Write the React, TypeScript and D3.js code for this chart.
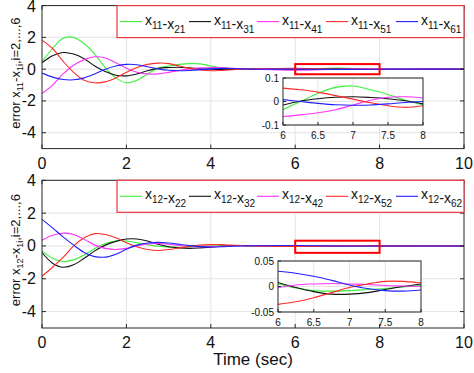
import React from "react";
import * as d3 from "d3";

// sample times (sec)
const T = [0, 0.25, 0.5, 0.75, 1, 1.25, 1.5, 1.75, 2, 2.25, 2.5, 2.75, 3, 3.25, 3.5, 3.75, 4, 4.25, 4.5, 4.75, 5, 6, 7, 8, 9, 10];
const TI = [6, 6.25, 6.5, 6.75, 7, 7.25, 7.5, 7.75, 8];

const colors = ["#3cf03c", "#111111", "#ff33ff", "#ff2a2a", "#2020ff"];

// upper panel: x11 - xi1
const top1 = [0.46, 1.3, 1.95, 2.0, 1.6, 0.95, 0.1, -0.55, -0.86, -0.7, -0.3, 0.05, 0.2, 0.3, 0.35, 0.33, 0.2, 0.1, 0.05, 0.02, 0, -0.035, 0.065, -0.015, 0.01, 0];
const top2 = [0.4, 0.85, 1.05, 0.95, 0.65, 0.2, -0.15, -0.38, -0.42, -0.3, -0.1, 0.05, 0.1, 0.12, 0.08, 0.03, 0, -0.02, -0.02, 0, 0.01, -0.015, 0.018, -0.01, 0, 0];
const top3 = [-1.53, -1.0, -0.3, 0.25, 0.6, 0.78, 0.7, 0.4, 0.05, -0.2, -0.3, -0.3, -0.2, -0.08, 0.02, 0.08, 0.1, 0.1, 0.05, 0.02, 0, -0.06, -0.01, 0.015, 0, 0];
const top4 = [1.83, 1.3, 0.5, -0.2, -0.7, -0.86, -0.8, -0.55, -0.2, 0.1, 0.3, 0.38, 0.35, 0.2, 0.05, -0.05, -0.1, -0.08, -0.04, 0, 0.02, 0.055, 0, -0.015, 0, 0];
const top5 = [-0.25, -0.5, -0.65, -0.67, -0.55, -0.3, 0, 0.2, 0.3, 0.28, 0.15, 0.02, -0.07, -0.1, -0.08, -0.03, 0.02, 0.05, 0.04, 0.02, 0, 0.01, -0.015, 0, 0, 0];

const topIn1 = [-0.035, 0, 0.035, 0.06, 0.066, 0.05, 0.03, 0.005, -0.015];
const topIn2 = [-0.015, 0.002, 0.012, 0.018, 0.02, 0.017, 0.012, 0.003, -0.01];
const topIn3 = [-0.064, -0.057, -0.048, -0.035, -0.015, 0.005, 0.018, 0.02, 0.015];
const topIn4 = [0.057, 0.05, 0.04, 0.025, 0.01, -0.005, -0.018, -0.025, -0.018];
const topIn5 = [0.008, 0, -0.008, -0.014, -0.016, -0.015, -0.01, -0.004, 0];

// lower panel: x12 - xi2
const bot1 = [-0.3, -0.75, -0.95, -0.85, -0.55, -0.15, 0.15, 0.3, 0.3, 0.2, 0.08, -0.02, -0.07, -0.08, -0.06, -0.03, 0, 0.02, 0.02, 0.01, 0, 0.005, -0.006, 0.002, 0, 0];
const bot2 = [-0.4, -1.05, -1.3, -1.15, -0.75, -0.3, 0.05, 0.28, 0.42, 0.42, 0.3, 0.1, -0.05, -0.12, -0.15, -0.12, -0.07, -0.02, 0.02, 0.03, 0.02, 0.008, -0.014, 0.005, 0, 0];
const bot3 = [0.35, 0.65, 0.78, 0.7, 0.4, 0.05, -0.15, -0.22, -0.15, 0, 0.12, 0.15, 0.1, 0.03, -0.03, -0.05, -0.04, -0.02, 0, 0.01, 0.01, -0.002, 0.005, 0, 0, 0];
const bot4 = [-1.85, -1.3, -0.7, 0, 0.5, 0.75, 0.7, 0.5, 0.2, -0.05, -0.22, -0.28, -0.22, -0.12, -0.02, 0.05, 0.08, 0.08, 0.05, 0.02, 0, -0.035, 0, 0.006, 0, 0];
const bot5 = [1.62, 1.1, 0.55, 0.05, -0.4, -0.65, -0.68, -0.5, -0.2, 0.05, 0.18, 0.22, 0.18, 0.1, 0.02, -0.04, -0.06, -0.05, -0.02, 0, 0.01, 0.03, 0, -0.007, 0, 0];

const botIn1 = [0.005, -0.003, -0.008, -0.009, -0.008, -0.006, -0.004, -0.001, 0.002];
const botIn2 = [0.008, -0.002, -0.01, -0.015, -0.015, -0.012, -0.006, 0, 0.005];
const botIn3 = [-0.002, 0.003, 0.005, 0.006, 0.005, 0.004, 0.002, 0.001, 0];
const botIn4 = [-0.035, -0.03, -0.022, -0.012, -0.002, 0.005, 0.01, 0.01, 0.007];
const botIn5 = [0.03, 0.026, 0.02, 0.012, 0.003, -0.004, -0.008, -0.009, -0.007];

const xTicks = [0, 2, 4, 6, 8, 10];
const yTicks = [-4, -2, 0, 2, 4];
const inXTicks = [6, 6.5, 7, 7.5, 8];

const font = "Liberation Sans, Arial, sans-serif";
const axisCol = "#262626";
const gridCol = "#e4e4e4";

type PanelProps = {
  top: number;
  bottom: number;
  idx: string; // "1" or "2"
  series: number[][];
  inset: number[][];
  inBox: { x0: number; x1: number; y0: number; y1: number };
  inLim: number;
  inTicks: number[];
  zoomY: [number, number];
  showTime?: boolean;
};

function Sub({ main, sub }: { main: string; sub: string }) {
  return (
    <>
      <tspan>{main}</tspan>
      <tspan dy={4} fontSize="0.72em">{sub}</tspan>
      <tspan dy={-4}></tspan>
    </>
  );
}

function Panel(p: PanelProps) {
  const left = 42, right = 464;
  const x = d3.scaleLinear().domain([0, 10]).range([left, right]);
  const y = d3.scaleLinear().domain([-5, 4]).range([p.bottom, p.top]);
  const line = d3.line<number>().x((_, i) => x(T[i])).y(d => y(d)).curve(d3.curveCatmullRom);

  const ix = d3.scaleLinear().domain([6, 8]).range([p.inBox.x0, p.inBox.x1]);
  const iy = d3.scaleLinear().domain([-p.inLim, p.inLim]).range([p.inBox.y1, p.inBox.y0]);
  const iline = d3.line<number>().x((_, i) => ix(TI[i])).y(d => iy(d)).curve(d3.curveCatmullRom);
  const clipId = "clip" + p.idx;
  const iclipId = "iclip" + p.idx;

  const legendX = [120, 189, 257, 326, 396];
  const others = ["2", "3", "4", "5", "6"];
  const lgTop = p.top;
  const lgY = lgTop + 16;

  return (
    <g fontFamily={font}>
      <defs>
        <clipPath id={clipId}>
          <rect x={left} y={p.top} width={right - left} height={p.bottom - p.top} />
        </clipPath>
        <clipPath id={iclipId}>
          <rect x={p.inBox.x0} y={p.inBox.y0} width={p.inBox.x1 - p.inBox.x0} height={p.inBox.y1 - p.inBox.y0} />
        </clipPath>
      </defs>
      <rect x={left} y={p.top} width={right - left} height={p.bottom - p.top} fill="#fff" />
      {xTicks.slice(1, -1).map(t => (
        <line key={"gx" + t} x1={x(t)} x2={x(t)} y1={p.top} y2={p.bottom} stroke={gridCol} />
      ))}
      {yTicks.map(t => (
        <line key={"gy" + t} x1={left} x2={right} y1={y(t)} y2={y(t)} stroke={gridCol} />
      ))}
      <g clipPath={`url(#${clipId})`}>
        {p.series.map((s, i) => (
          <path key={i} d={line(s) || ""} fill="none" stroke={colors[i]} strokeWidth={1.1} />
        ))}
      </g>
      {/* ticks */}
      {xTicks.map(t => (
        <g key={"tx" + t}>
          <line x1={x(t)} x2={x(t)} y1={p.bottom} y2={p.bottom - 4} stroke={axisCol} />
          <line x1={x(t)} x2={x(t)} y1={p.top} y2={p.top + 4} stroke={axisCol} />
          <text x={x(t)} y={p.bottom + 20} textAnchor="middle" fontSize={16} fill="#111">{t}</text>
        </g>
      ))}
      {yTicks.map(t => (
        <g key={"ty" + t}>
          <line x1={left} x2={left + 4} y1={y(t)} y2={y(t)} stroke={axisCol} />
          <line x1={right} x2={right - 4} y1={y(t)} y2={y(t)} stroke={axisCol} />
          <text x={left - 6} y={Math.max(y(t) + 5.5, 12)} textAnchor="end" fontSize={16} fill="#111">{t}</text>
        </g>
      ))}
      <rect x={left} y={p.top} width={right - left} height={p.bottom - p.top} fill="none" stroke={axisCol} strokeWidth={1} />

      {/* zoom rectangle */}
      <rect x={x(6)} y={y(p.zoomY[1])} width={x(8) - x(6)} height={y(p.zoomY[0]) - y(p.zoomY[1])} fill="none" stroke="#ff0000" strokeWidth={2} />

      {/* inset */}
      <rect x={p.inBox.x0} y={p.inBox.y0} width={p.inBox.x1 - p.inBox.x0} height={p.inBox.y1 - p.inBox.y0} fill="#fff" />
      {inXTicks.slice(1, -1).map(t => (
        <line key={"igx" + t} x1={ix(t)} x2={ix(t)} y1={p.inBox.y0} y2={p.inBox.y1} stroke={gridCol} />
      ))}
      {p.inTicks.map(t => (
        <line key={"igy" + t} x1={p.inBox.x0} x2={p.inBox.x1} y1={iy(t)} y2={iy(t)} stroke={gridCol} />
      ))}
      <g clipPath={`url(#${iclipId})`}>
        {p.inset.map((s, i) => (
          <path key={i} d={iline(s) || ""} fill="none" stroke={colors[i]} strokeWidth={1.1} />
        ))}
      </g>
      {inXTicks.map(t => (
        <g key={"itx" + t}>
          <line x1={ix(t)} x2={ix(t)} y1={p.inBox.y1} y2={p.inBox.y1 - 3} stroke={axisCol} />
          <text x={ix(t)} y={p.inBox.y1 + 14} textAnchor="middle" fontSize={10} fill="#111">{t}</text>
        </g>
      ))}
      {p.inTicks.map(t => (
        <g key={"ity" + t}>
          <line x1={p.inBox.x0} x2={p.inBox.x0 + 3} y1={iy(t)} y2={iy(t)} stroke={axisCol} />
          <text x={p.inBox.x0 - 4} y={iy(t) + 3.5} textAnchor="end" fontSize={10} fill="#111">{t}</text>
        </g>
      ))}
      <rect x={p.inBox.x0} y={p.inBox.y0} width={p.inBox.x1 - p.inBox.x0} height={p.inBox.y1 - p.inBox.y0} fill="none" stroke={axisCol} />

      {/* legend */}
      <rect x={117} y={lgTop} width={347} height={32} fill="#fff" stroke="#e8383f" strokeWidth={1.2} />
      {legendX.map((lx, i) => (
        <g key={"lg" + i}>
          <line x1={lx} x2={lx + 22} y1={lgY} y2={lgY} stroke={colors[i]} strokeWidth={1.1} />
          <text x={lx + 25} y={lgY + 3} fontSize={14} fill="#111">
            <Sub main="x" sub={"1" + p.idx} />
            <tspan>-</tspan>
            <Sub main="x" sub={others[i] + p.idx} />
          </text>
        </g>
      ))}

      {/* y label */}
      <text transform={`translate(20,${(p.top + p.bottom) / 2 - 4}) rotate(-90)`} textAnchor="middle" fontSize={13} fill="#111">
        <tspan>error x</tspan>
        <tspan dy={3} fontSize={9}>{"1" + p.idx}</tspan>
        <tspan dy={-3}>-x</tspan>
        <tspan dy={3} fontSize={9}>{"1i"}</tspan>
        <tspan dy={-3}>,i=2,...,6</tspan>
      </text>
      {p.showTime && (
        <text x={253} y={p.bottom + 37} textAnchor="middle" fontSize={17} fill="#111">Time (sec)</text>
      )}
    </g>
  );
}

export default function App() {
  return (
    <svg width={474} height={373} style={{ display: "block", position: "absolute", left: 0, top: 0, background: "#fff" }}>
      <rect width={474} height={373} fill="#fff" />
      <Panel
        top={5.6}
        bottom={148.6}
        idx="1"
        series={[top1, top2, top3, top4, top5]}
        inset={[topIn1, topIn2, topIn3, topIn4, topIn5]}
        inBox={{ x0: 283, x1: 423, y0: 78, y1: 125 }}
        inLim={0.1}
        inTicks={[-0.1, 0, 0.1]}
        zoomY={[-0.32, 0.32]}
      />
      <Panel
        top={180.3}
        bottom={328}
        idx="2"
        series={[bot1, bot2, bot3, bot4, bot5]}
        inset={[botIn1, botIn2, botIn3, botIn4, botIn5]}
        inBox={{ x0: 278, x1: 421, y0: 261, y1: 312 }}
        inLim={0.05}
        inTicks={[-0.05, 0, 0.05]}
        zoomY={[-0.42, 0.32]}
        showTime
      />
    </svg>
  );
}
